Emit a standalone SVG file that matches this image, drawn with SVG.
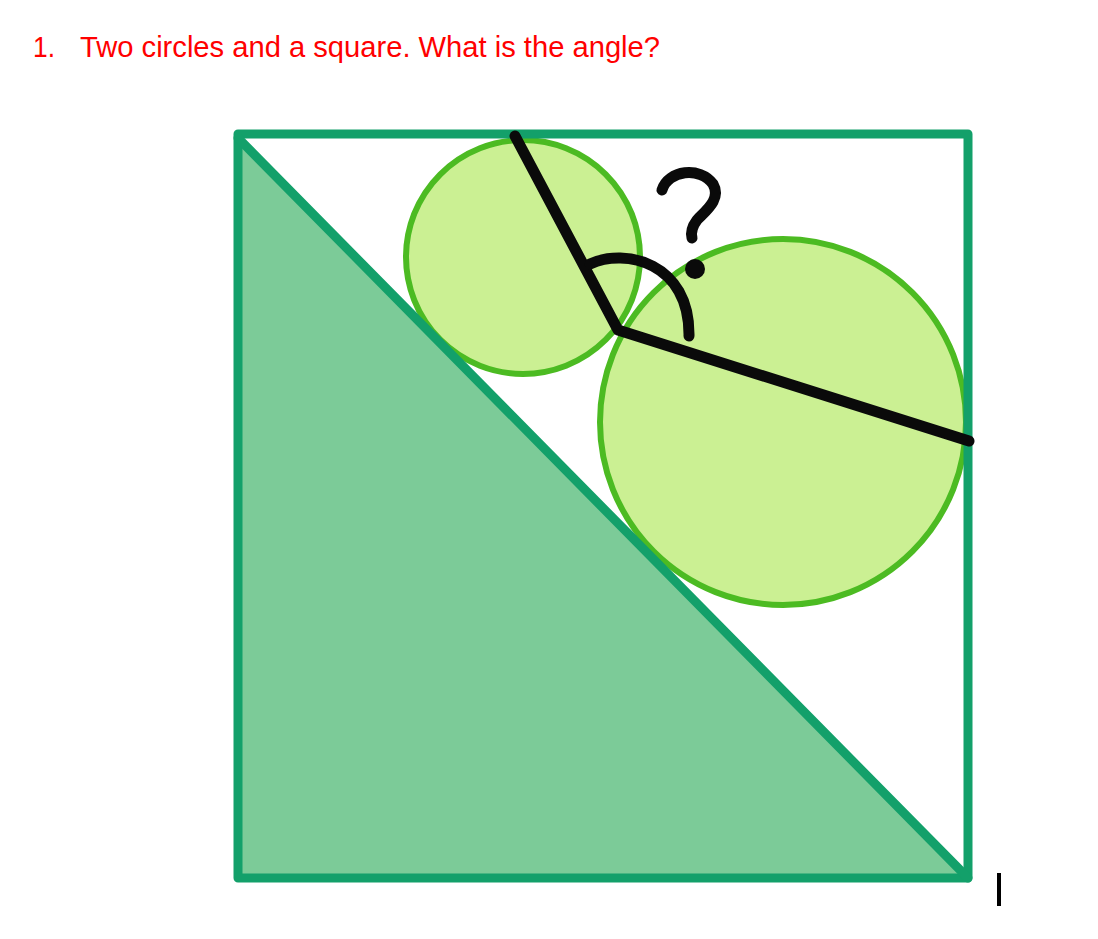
<svg xmlns="http://www.w3.org/2000/svg" width="1098" height="939" viewBox="0 0 1098 939">
<style>
.sq{fill:none;stroke:#13a06a;stroke-width:9;stroke-linejoin:round;stroke-linecap:round}
.circ{fill:#cbf093;stroke:#4cbb22;stroke-width:6}
.blk{fill:none;stroke:#0a0a0a;stroke-width:11;stroke-linecap:round;stroke-linejoin:round}
.title{font-family:"Liberation Sans",Arial,sans-serif;font-size:30px;fill:#ff0000}
</style>
<rect width="1098" height="939" fill="#ffffff"/>
<g id="title"><text class="title" x="33" y="57" textLength="22" lengthAdjust="spacingAndGlyphs">1.</text><text class="title" x="80" y="57" textLength="580" lengthAdjust="spacingAndGlyphs">Two circles and a square. What is the angle?</text></g>
<g id="small-circle"><circle class="circ" cx="523" cy="257" r="117"/></g>
<g id="large-circle"><circle class="circ" cx="783" cy="422" r="183"/></g>
<g id="triangle"><polygon points="238,138 238,878 968,878" fill="#7ccb98"/></g>
<g id="square"><rect class="sq" x="238" y="134" width="730" height="744"/><line class="sq" x1="238" y1="138" x2="968" y2="878"/></g>
<g id="connectors">
<polyline class="blk" points="515,136 618,330 969,441"/>
<path class="blk" d="M590,264 C625,248 690,262 689,336"/>
</g>
<g id="question">
<path class="blk" d="M662,190 C668,170 700,166 713,184 C722,200 704,212 697,220 C691,228 691,234 692,238" stroke-width="13"/>
<circle cx="695" cy="269" r="10" fill="#0a0a0a"/>
</g>
<g id="cursor"><rect x="997" y="873" width="4" height="33" fill="#000"/></g>
</svg>
